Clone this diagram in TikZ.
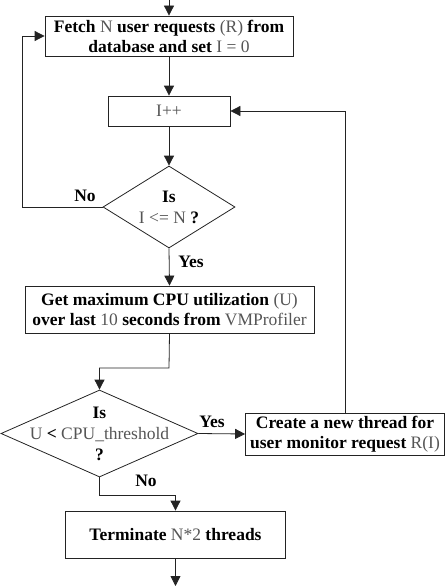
\documentclass[tikz,border=0pt]{standalone}
\usepackage{fontspec}
\setmainfont{Liberation Serif}
\usepackage{xcolor}
\usepackage{pdfrender}
\usetikzlibrary{arrows.meta,positioning,shapes.geometric}
\definecolor{flowline}{RGB}{35,35,35}
\definecolor{varline} {RGB}{85,85,85}
\newcommand*{\ovar}[1]{{\mdseries\color{varline}%
  \textpdfrender{TextRenderingMode=Stroke,LineWidth=0.35pt}{#1}}}
\tikzset{
  blk/.style={draw=flowline,line width=0.8pt,inner sep=0pt,align=center,
              font=\fontsize{17.5}{20}\selectfont\bfseries},
  dec/.style={diamond,draw=flowline,line width=0.8pt,inner sep=0pt},
  dectxt/.style={font=\fontsize{17.5}{21}\selectfont\bfseries,align=center,
                 inner sep=0pt},
  arr/.style={-{Triangle[length=10pt,width=10pt]},draw=flowline,line width=0.8pt},
  lbl/.style={font=\fontsize{17.5}{20}\selectfont\bfseries,inner sep=0pt},
}
\begin{document}
\begin{tikzpicture}[x=1pt,y=-1pt]
\useasboundingbox (0,0) rectangle (445,586);
% process boxes
\node[blk,minimum width=248,minimum height=40] (fetch) at (169,36)
  {Fetch \ovar{N} user requests \ovar{(R)} from\\database and set \ovar{I = 0}};
\node[blk,minimum width=122,minimum height=30] (inc) at (169,111) {\ovar{I++}};
\node[dec,minimum width=132,minimum height=82,
      label={[dectxt]center:Is\\\ovar{I <= N} ?}] (chkI) at (169,207) {};
\node[blk,minimum width=289,minimum height=47] (getu) at (169.5,309.5)
  {Get maximum CPU utilization \ovar{(U)}\\over last \ovar{10} seconds from \ovar{VMProfiler}};
\node[dec,minimum width=197,minimum height=87,
      label={[dectxt]center:Is\\\ovar{U} < \ovar{CPU\_threshold}\\?}] (chkU) at (99.5,433.5) {};
\node[blk,minimum width=199,minimum height=42] (create) at (345,434)
  {Create a new thread for\\user monitor request \ovar{R(I)}};
\node[blk,minimum width=220,minimum height=47] (term) at (175.5,534.5)
  {Terminate \ovar{N*2} threads};
% helper points
\coordinate (start) at (169,0);
\coordinate (loopL) at (22,207);
\coordinate (bendA) at (169,368);
\coordinate (bendB) at (99.5,495);
\coordinate (stop) at (175.5,586);
% connectors
\draw[arr] (start) -- (fetch.north);
\draw[arr] (fetch.south) -- (inc.north);
\draw[arr] (inc.south) -- (chkI.north);
\draw[arr] (chkI.west) -- (loopL) |- (fetch.west);
\draw[arr] (chkI.south) -- (getu.north);
\draw[arr] (getu.south) -- (bendA) -| (chkU.north);
\draw[arr] (chkU.east) -- (create.west);
\draw[arr] (create.north) |- (inc.east);
\draw[arr] (chkU.south) -- (bendB) -| (term.north);
\draw[arr] (term.south) -- (stop);
% branch labels
\node[lbl] (noI)  at (85,196)  {No};
\node[lbl] (yesI) at (191,262) {Yes};
\node[lbl] (yesU) at (212,422) {Yes};
\node[lbl] (noU)  at (146,481) {No};
\end{tikzpicture}
\end{document}
